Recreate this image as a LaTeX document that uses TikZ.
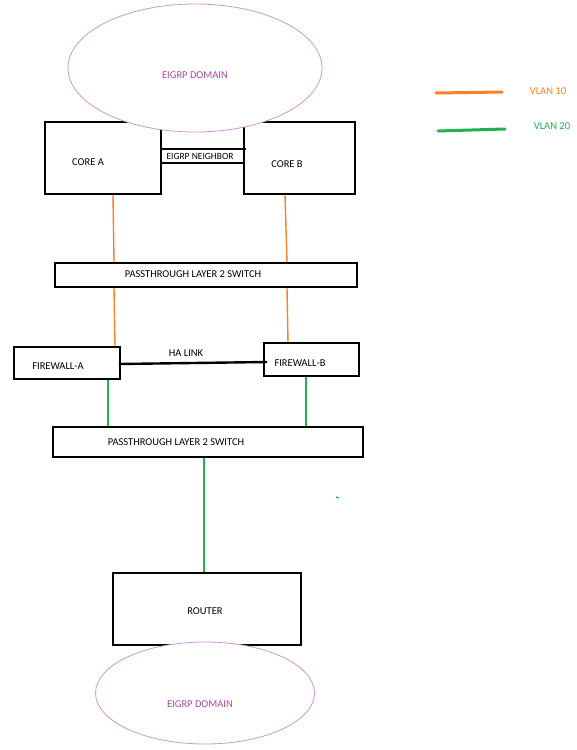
\documentclass[tikz,border=0pt]{standalone}
\usepackage{fontspec}
\setmainfont{Carlito}
\usetikzlibrary{shapes.geometric}
\definecolor{vorange}{RGB}{255,127,39}
\definecolor{vgreen}{RGB}{34,177,76}
\definecolor{vpurple}{RGB}{163,73,164}
\definecolor{elline}{RGB}{205,150,215}
\begin{document}
\begin{tikzpicture}[x=1pt,y=-1pt,
  box/.style={draw=black,line width=1.6pt,fill=white,inner sep=0pt,minimum width=#1},
  txt/.style={inner sep=0pt,font=\fontsize{10.5}{12}\selectfont},
  dom/.style={ellipse,draw=elline,line width=0.8pt,fill=white,inner sep=0pt},
  olink/.style={draw=vorange,line width=1.4pt},
  glink/.style={draw=vgreen,line width=1.4pt},
  blink/.style={draw=black,line width=1.6pt}]
\useasboundingbox (0,0) rectangle (577,750);
\fill[white] (0,0) rectangle (577,750);
% boxes
\node[box=116pt,minimum height=72pt] (coreA) at (103,158) {};
\node[box=111pt,minimum height=72pt] (coreB) at (299.5,158) {};
\node[box=302pt,minimum height=24pt] (sw1) at (206,275) {};
\node[box=106pt,minimum height=32pt] (fwA) at (67,363) {};
\node[box=95pt,minimum height=33pt] (fwB) at (311.5,359.5) {};
\node[box=310pt,minimum height=30pt] (sw2) at (208,442) {};
\node[box=188pt,minimum height=72pt] (router) at (207,609) {};
% domains
\node[dom,minimum width=254pt,minimum height=128pt] (domTop) at (195,68) {};
\node[dom,minimum width=219pt,minimum height=102pt] (domBot) at (205,693) {};
% links
\draw[blink] ([yshift=9pt]coreA.east) -- ([xshift=3pt,yshift=9pt]coreB.west);
\draw[blink] ([yshift=-5pt]coreA.east) -- ([yshift=-5pt]coreB.west);
\draw[olink] ([xshift=10pt]coreA.south) -- ([xshift=-92pt]sw1.north);
\draw[olink] ([xshift=-14.5pt]coreB.south) -- ([xshift=81pt]sw1.north);
\draw[olink] ([xshift=-92pt]sw1.south) -- ([xshift=48pt]fwA.north);
\draw[olink] ([xshift=81pt]sw1.south) -- ([xshift=-23.5pt]fwB.north);
\draw[glink] ([xshift=41pt]fwA.south) -- ([xshift=-100pt]sw2.north);
\draw[glink] ([xshift=-5.5pt]fwB.south) -- ([xshift=98pt]sw2.north);
\draw[glink] ([xshift=-4pt]sw2.south) -- ([xshift=-3pt]router.north);
\draw[draw=black,line width=2.4pt] ([xshift=-2pt,yshift=-1pt]fwA.east) -- ([xshift=4pt,yshift=-2.5pt]fwB.west);
% texts
\node[txt,text=vpurple] (tDomTop) at (195,75) {EIGRP DOMAIN};
\node[txt,text=vpurple] (tDomBot) at (200,704) {EIGRP DOMAIN};
\node[txt] (tCoreA) at (88,162) {CORE A};
\node[txt] (tCoreB) at (287,164) {CORE B};
\node[txt,font=\fontsize{9.5}{11}\selectfont] (tNeigh) at (200,156) {EIGRP NEIGHBOR};
\node[txt] (tSw1) at (193,274) {PASSTHROUGH LAYER 2 SWITCH};
\node[txt] (tFwA) at (58,366) {FIREWALL-A};
\node[txt] (tFwB) at (300,363) {FIREWALL-B};
\node[txt] (tHA) at (186,353) {HA LINK};
\node[txt] (tSw2) at (176,442) {PASSTHROUGH LAYER 2 SWITCH};
\node[txt] (tRouter) at (205,611) {ROUTER};
% legend
\coordinate (lo1) at (436,93);
\coordinate (lo2) at (502,92);
\coordinate (lg1) at (438,131);
\coordinate (lg2) at (505,129);
\draw[draw=vorange,line width=3pt,line cap=round] (lo1) -- (lo2);
\draw[draw=vgreen,line width=3pt,line cap=round] (lg1) -- (lg2);
\node[txt,text=vorange] (tV10) at (548,91) {VLAN 10};
\node[txt,text=vgreen] (tV20) at (552,126) {VLAN 20};
% stray mark
\coordinate (s1) at (336,497);
\coordinate (s2) at (339,498);
\draw[draw=vgreen,line width=1.2pt] (s1) -- (s2);
\end{tikzpicture}
\end{document}
